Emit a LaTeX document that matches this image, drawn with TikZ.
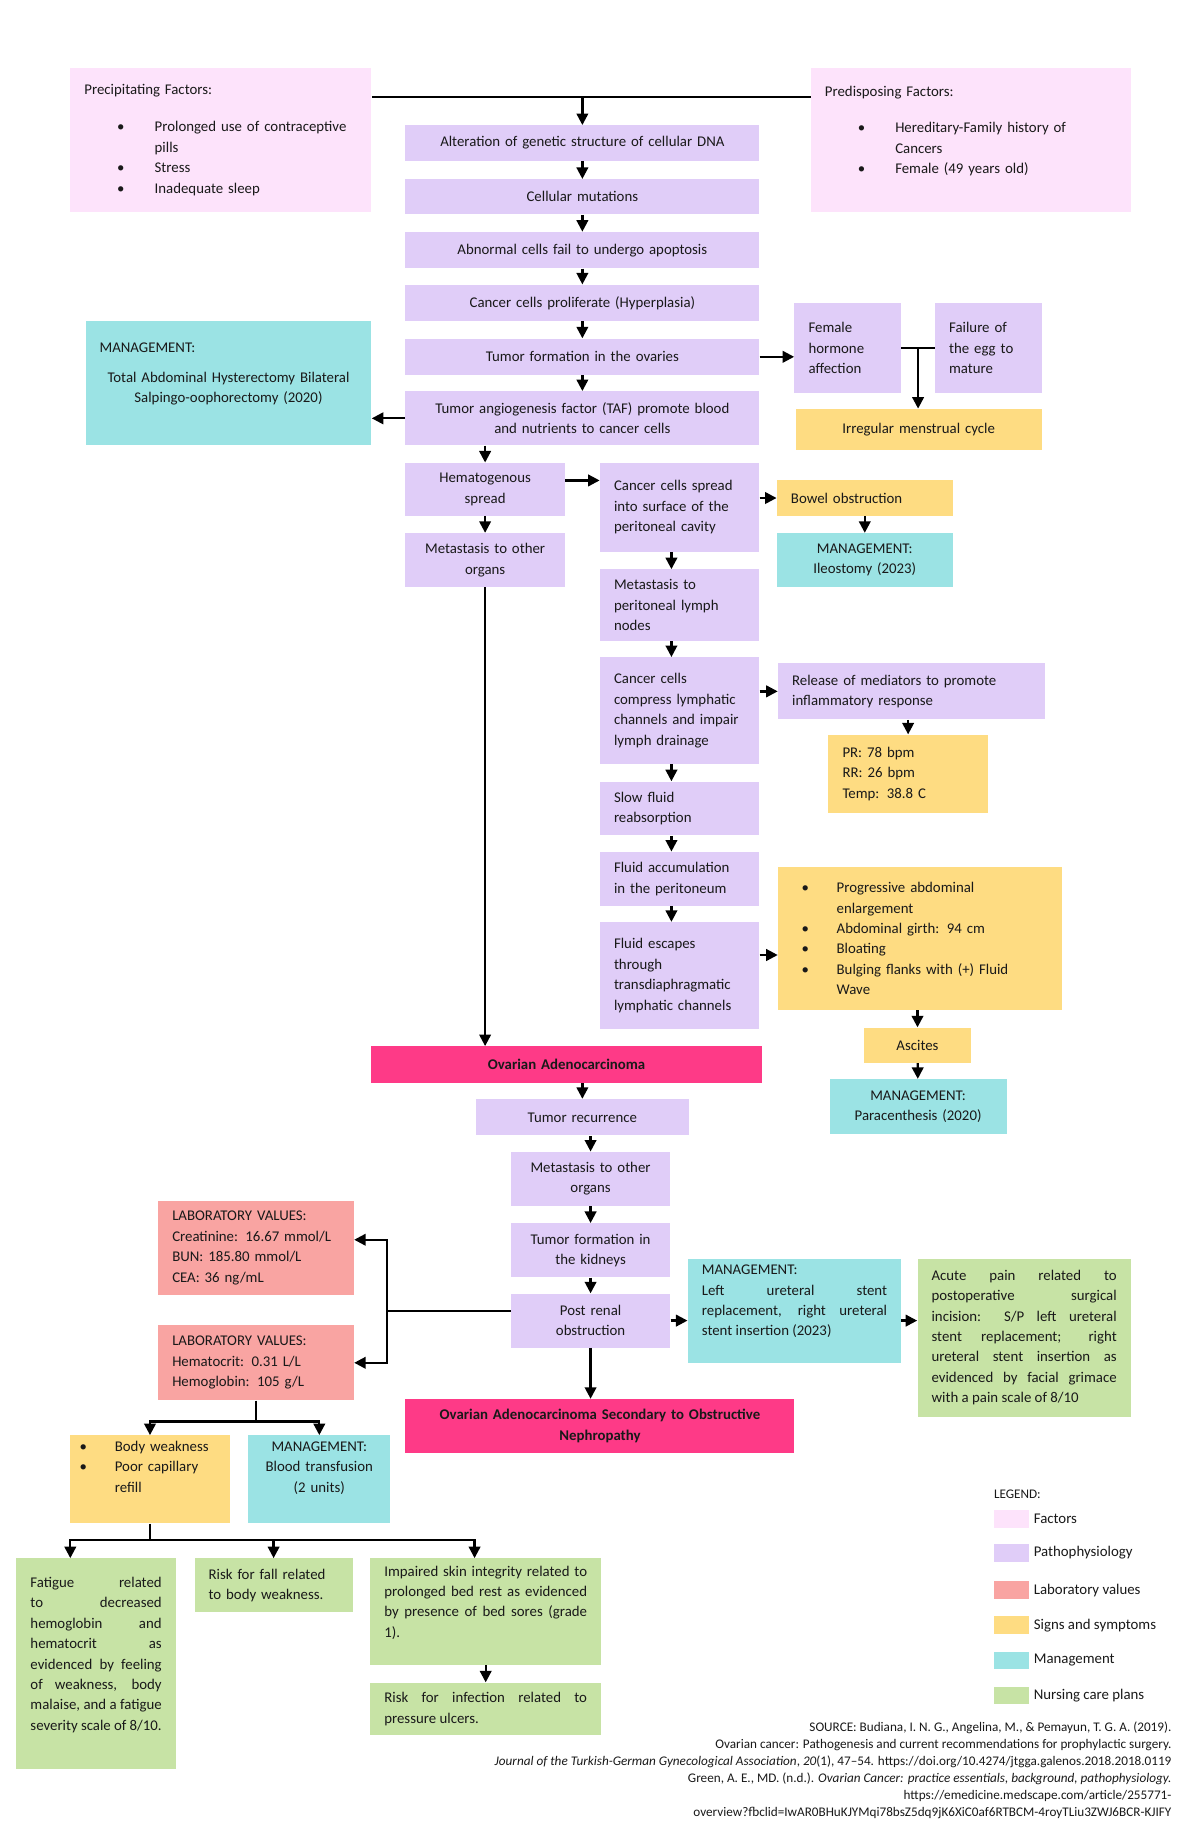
\documentclass[tikz,border=0pt]{standalone}
\usepackage{fontspec}
\setmainfont{Carlito}
\usetikzlibrary{arrows.meta,calc}
\hyphenpenalty=10000
\exhyphenpenalty=10000
\definecolor{cfac}{HTML}{FDE3FB}
\definecolor{cpat}{HTML}{E0CDF8}
\definecolor{clab}{HTML}{F9A4A2}
\definecolor{csig}{HTML}{FEDC82}
\definecolor{cman}{HTML}{9BE3E4}
\definecolor{cnur}{HTML}{C7E3A5}
\definecolor{cmag}{HTML}{FE3A87}
\newcommand\bx[7]{%
 \pgfmathsetmacro\bw{(#4-#2)*0.025}\pgfmathsetmacro\bh{(#5-#3)*0.025}\pgfmathsetmacro\tw{(#4-#2-24)*0.025}%
 \node[box,#6, minimum width=\bw cm, minimum height=\bh cm, text width=\tw cm] (#1) at ({(#2+#4)/2},{(#3+#5)/2}) {#7};}
\newcommand\bul[3]{\hspace*{#1cm}\makebox[#2cm][l]{\textbullet}#3}
\begin{document}
\hyphenpenalty=10000
\exhyphenpenalty=10000
\begin{tikzpicture}[x=0.025cm,y=-0.025cm,
 box/.style={inner sep=0pt,align=center,font=\fontsize{9}{12.4}\selectfont,text=black!90},
 fac/.style={fill=cfac},pat/.style={fill=cpat},lab/.style={fill=clab},sig/.style={fill=csig},
 man/.style={fill=cman},nur/.style={fill=cnur},mag/.style={fill=cmag,font=\fontsize{9}{12.4}\selectfont\bfseries},
 ln/.style={line width=1.4pt},
 arr/.style={line width=1.4pt,-{Triangle[length=7pt,width=7pt]}}]
\useasboundingbox[fill=white] (0,0) rectangle (1024,1566);
% factors
\bx{prec}{60}{58}{317}{181}{fac,align=left}{Precipitating Factors:\\[0.35cm]\bul{0.7}{0.8}{Prolonged use of contraceptive}\\\hspace*{1.5cm}pills\\\bul{0.7}{0.8}{Stress}\\\bul{0.7}{0.8}{Inadequate sleep}}
\bx{pred}{692}{58}{965}{181}{fac,align=left}{Predisposing Factors:\\[0.35cm]\bul{0.7}{0.8}{Hereditary-Family history of}\\\hspace*{1.5cm}Cancers\\\bul{0.7}{0.8}{Female (49 years old)}\\\mbox{}}
% main chain
\bx{p1}{346}{107}{648}{137}{pat}{Alteration of genetic structure of cellular DNA}
\bx{p2}{346}{153}{648}{183}{pat}{Cellular mutations}
\bx{p3}{346}{198}{648}{229}{pat}{Abnormal cells fail to undergo apoptosis}
\bx{p4}{346}{243}{648}{274}{pat}{Cancer cells proliferate (Hyperplasia)}
\bx{p5}{346}{289}{648}{320}{pat}{Tumor formation in the ovaries}
\bx{p6}{346}{334}{648}{380}{pat}{Tumor angiogenesis factor (TAF) promote blood\\and nutrients to cancer cells}
\bx{m1}{73}{274}{317}{380}{man}{\makebox[\linewidth][l]{MANAGEMENT:}\\[0.2cm]Total Abdominal Hysterectomy Bilateral\\Salpingo-oophorectomy (2020)\\\mbox{}}
\bx{fem}{678}{259}{769}{335}{pat,align=left}{Female\\hormone\\affection}
\bx{fail}{798}{259}{889}{335}{pat,align=left}{Failure of\\the egg to\\mature}
\bx{irr}{679}{349}{889}{384}{sig}{Irregular menstrual cycle}
\bx{hem}{346}{395}{482}{440}{pat}{Hematogenous\\spread}
\bx{meta}{346}{455}{482}{501}{pat}{Metastasis to other\\organs}
\bx{csp}{512}{395}{648}{471}{pat,align=left}{Cancer cells spread\\into surface of the\\peritoneal cavity}
\bx{bow}{663}{410}{813}{440}{sig,align=left}{Bowel obstruction}
\bx{m2}{663}{455}{813}{501}{man}{MANAGEMENT:\\Ileostomy (2023)}
\bx{mpl}{512}{486}{648}{547}{pat,align=left}{Metastasis to\\peritoneal lymph\\nodes}
\bx{cmp}{512}{561}{648}{652}{pat,align=left}{Cancer cells\\compress lymphatic\\channels and impair\\lymph drainage}
\bx{rel}{664}{566}{892}{614}{pat,align=left}{Release of mediators to promote\\inflammatory response}
\bx{vit}{707}{627}{843}{694}{sig,align=left}{PR: 78 bpm\\RR: 26 bpm\\Temp: 38.8 C}
\bx{slow}{512}{667}{648}{713}{pat,align=left}{Slow fluid\\reabsorption}
\bx{acc}{512}{727}{648}{773}{pat,align=left}{Fluid accumulation\\in the peritoneum}
\bx{esc}{512}{787}{648}{878}{pat,align=left}{Fluid escapes\\through\\transdiaphragmatic\\lymphatic channels}
\bx{sgn}{664}{740}{906}{862}{sig,align=left}{\bul{0.2}{0.75}{Progressive abdominal}\\\hspace*{0.95cm}enlargement\\\bul{0.2}{0.75}{Abdominal girth: 94 cm}\\\bul{0.2}{0.75}{Bloating}\\\bul{0.2}{0.75}{Bulging flanks with (+) Fluid}\\\hspace*{0.95cm}Wave}
\bx{asc}{737}{877}{829}{907}{sig}{Ascites}
\bx{m3}{708}{921}{859}{968}{man}{MANAGEMENT:\\Paracenthesis (2020)}
\bx{oa}{317}{893}{650}{924}{mag}{Ovarian Adenocarcinoma}
\bx{rec}{406}{938}{588}{969}{pat}{Tumor recurrence}
\bx{mo2}{436}{983}{572}{1029}{pat}{Metastasis to other\\organs}
\bx{kid}{436}{1044}{572}{1090}{pat}{Tumor formation in\\the kidneys}
\bx{pr}{436}{1104}{572}{1150}{pat}{Post renal\\obstruction}
\bx{sec}{346}{1194}{678}{1240}{mag}{Ovarian Adenocarcinoma Secondary to Obstructive\\Nephropathy}
\bx{m4}{587}{1074}{769}{1163}{man,align=justify}{MANAGEMENT:\\Left ureteral stent replacement, right ureteral stent insertion (2023)\\\mbox{}}
\bx{nap}{783}{1074}{965}{1209}{nur,align=justify}{Acute pain related to postoperative surgical incision: S/P left ureteral stent replacement; right ureteral stent insertion as evidenced by facial grimace with a pain scale of 8/10}
\bx{lab1}{135}{1025}{302}{1105}{lab,align=left}{LABORATORY VALUES:\\Creatinine: 16.67 mmol/L\\BUN: 185.80 mmol/L\\CEA: 36 ng/mL}
\bx{lab2}{135}{1131}{302}{1195}{lab,align=left}{LABORATORY VALUES:\\Hematocrit: 0.31 L/L\\Hemoglobin: 105 g/L}
\bx{bw}{60}{1225}{196}{1300}{sig,align=left}{\bul{-0.1}{0.75}{Body weakness}\\\bul{-0.1}{0.75}{Poor capillary}\\\hspace*{0.65cm}refill\\[0.1cm]\mbox{}}
\bx{bt}{212}{1225}{333}{1300}{man}{MANAGEMENT:\\Blood transfusion\\(2 units)\\[0.1cm]\mbox{}}
\bx{fat}{14}{1330}{150}{1510}{nur,align=justify}{Fatigue related to decreased hemoglobin and hematocrit as evidenced by feeling of weakness, body malaise, and a fatigue severity scale of 8/10.\\\mbox{}}
\bx{fall}{166}{1330}{301}{1376}{nur,align=left}{Risk for fall related\\to body weakness.}
\bx{skin}{316}{1330}{513}{1421}{nur,align=justify}{Impaired skin integrity related to prolonged bed rest as evidenced by presence of bed sores (grade 1).\\\mbox{}}
\bx{inf}{316}{1436}{513}{1481}{nur,align=justify}{Risk for infection related to pressure ulcers.}
% connectors
\coordinate (t) at (p1.north |- 0,83);
\draw[ln] (prec.east |- t) -- (pred.west |- t);
\draw[arr] (t) -- (p1.north);
\draw[arr] (p1) -- (p2); \draw[arr] (p2) -- (p3); \draw[arr] (p3) -- (p4);
\draw[arr] (p4) -- (p5); \draw[arr] (p5) -- (p6);
\draw[arr] (p6.west) -- (m1.east |- p6.west);
\draw[arr] (p5.east) -- (fem.west |- p5.east);
\draw[ln] (fem.east) -- (fail.west);
\coordinate (ff) at ($(fem.east)!0.5!(fail.west)$);
\draw[arr] (ff) -- (ff |- irr.north);
\draw[arr] (hem.north |- p6.south) -- (hem.north);
\draw[arr] (hem.east |- 0,410) -- (csp.west |- 0,410);
\draw[arr] (hem) -- (meta);
\draw[arr] (meta.south) -- (meta.south |- oa.north);
\draw[arr] (csp.east |- bow.west) -- (bow.west);
\draw[arr] (bow) -- (m2);
\coordinate (cx) at (573,0);
\draw[arr] (csp.south -| cx) -- (mpl.north -| cx); \draw[arr] (mpl.south -| cx) -- (cmp.north -| cx); \draw[arr] (cmp.south -| cx) -- (slow.north -| cx);
\draw[arr] (slow.south -| cx) -- (acc.north -| cx); \draw[arr] (acc.south -| cx) -- (esc.north -| cx);
\draw[arr] (cmp.east |- rel.west) -- (rel.west);
\draw[arr] (rel.south -| vit.north) -- (vit.north);
\draw[arr] (esc.east |- 0,815) -- (sgn.west |- 0,815);
\draw[arr] (sgn.south -| asc.north) -- (asc.north);
\draw[arr] (asc) -- (m3);
\draw[arr] (oa.south -| rec.north) -- (rec.north);
\draw[arr] (rec.south -| mo2.north) -- (mo2.north);
\draw[arr] (mo2) -- (kid); \draw[arr] (kid) -- (pr);
\draw[arr] (pr.south) -- (pr.south |- sec.north);
\draw[arr] (pr.east) -- (m4.west |- pr.east);
\draw[arr] (m4.east |- pr.east) -- (nap.west |- pr.east);
\coordinate (j) at (330,1119);
\draw[ln] (pr.west |- j) -- (j);
\draw[arr] (j) |- (lab1.east |- 0,1058);
\draw[arr] (j) |- (lab2.east |- 0,1163);
\coordinate (k) at (lab2.south |- 0,1213);
\draw[ln] (lab2.south) -- (k);
\draw[arr] (k) -| (bw.north); \draw[arr] (k) -| (bt.north);
\coordinate (q) at (bw.south |- 0,1314);
\draw[ln] (bw.south) -- (q);
\draw[arr] (q) -| (fat.north -| 60,0); \draw[arr] (q) -| (fall.north); \draw[arr] (q) -| (skin.north -| 405,0);
\draw[arr] (skin) -- (inf);
% legend
\node[box,anchor=west] (lg) at (848,1275) {\fontsize{8}{10}\selectfont LEGEND:};
\foreach \c/\t/\y [count=\i] in {cfac/Factors/1296,cpat/Pathophysiology/1325,clab/Laboratory values/1357,csig/Signs and symptoms/1387,cman/Management/1417,cnur/Nursing care plans/1447}{
 \node[box,fill=\c,minimum width=0.75cm,minimum height=0.38cm] (sw\i) at (863,\y) {};
 \node[box,anchor=west] (lt\i) at (882,\y) {\t};}
\node[box,anchor=north east,align=right,font=\fontsize{8}{10.3}\selectfont] (src) at (1000,1469) {SOURCE: Budiana, I. N. G., Angelina, M., \& Pemayun, T. G. A. (2019).\\Ovarian cancer: Pathogenesis and current recommendations for prophylactic surgery.\\\textit{Journal of the Turkish-German Gynecological Association}, \textit{20}(1), 47--54. https://doi.org/10.4274/jtgga.galenos.2018.2018.0119\\Green, A. E., MD. (n.d.). \textit{Ovarian Cancer: practice essentials, background, pathophysiology.}\\https://emedicine.medscape.com/article/255771-\\overview?fbclid=IwAR0BHuKJYMqi78bsZ5dq9jK6XiC0af6RTBCM-4royTLiu3ZWJ6BCR-KJIFY};
\end{tikzpicture}
\end{document}
